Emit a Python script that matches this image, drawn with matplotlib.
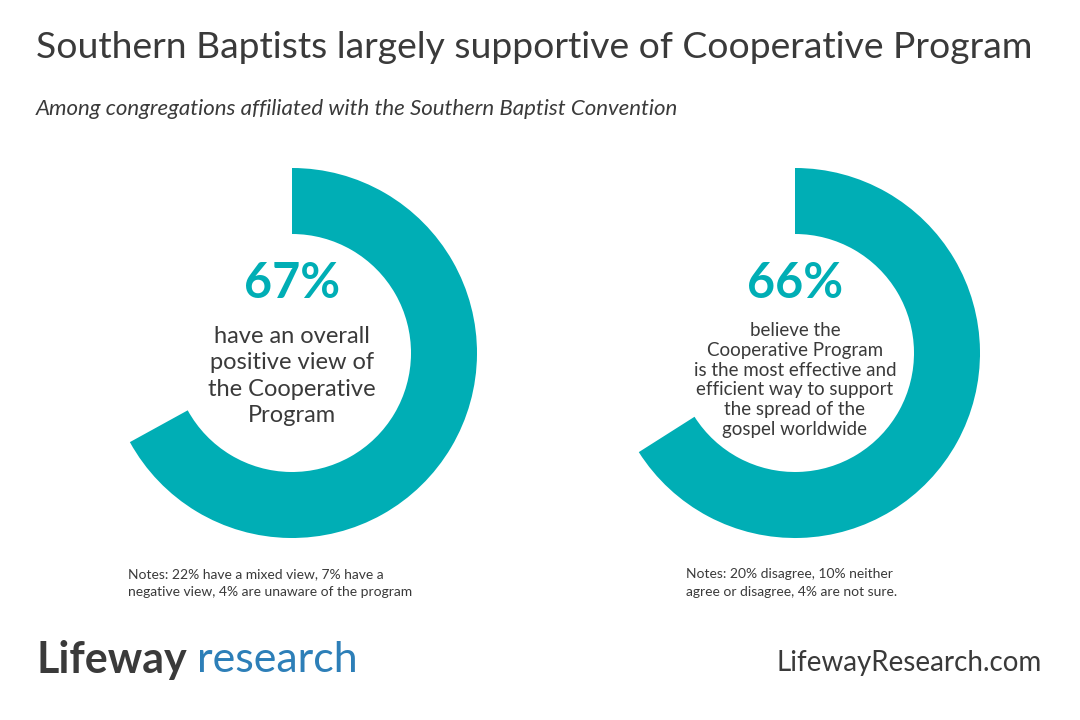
import matplotlib
matplotlib.use("Agg")
import matplotlib.pyplot as plt
from matplotlib.patches import Wedge

plt.rcParams['font.family'] = ['Lato', 'DejaVu Sans']

title = "Southern Baptists largely supportive of Cooperative Program"
subtitle = "Among congregations affiliated with the Southern Baptist Convention"
values = [67, 66]
labels = ["have an overall\npositive view of\nthe Cooperative\nProgram",
          "believe the\nCooperative Program\nis the most effective and\nefficient way to support\nthe spread of the\ngospel worldwide"]
notes = ["Notes: 22% have a mixed view, 7% have a\nnegative view, 4% are unaware of the program",
         "Notes: 20% disagree, 10% neither\nagree or disagree, 4% are not sure."]

TEAL = "#00AEB5"
DARK = "#3a3a3a"

fig = plt.figure(figsize=(10.8, 7.2), dpi=100)
ax = fig.add_axes([0, 0, 1, 1])
ax.set_xlim(0, 1080); ax.set_ylim(720, 0); ax.axis('off')

centers = [(292, 353), (795, 353)]
R, W = 185, 66
label_sizes = [17, 13.5]
label_y = [376, 380]
line_sp = [1.3, 1.2]
note_x = [128, 686]
for (cx, cy), v, lab, ls, ly, lsp, nx, note in zip(centers, values, labels, label_sizes, label_y, line_sp, note_x, notes):
    w = Wedge((cx, cy), R, -90, -90 + 360 * v / 100, width=W, color=TEAL, lw=0)
    ax.add_patch(w)
    ax.text(cx, 283, f"{v}%", ha='center', va='center', color=TEAL, fontsize=35, fontweight='bold')
    ax.text(cx, ly, lab, ha='center', va='center', color=DARK, fontsize=ls, linespacing=lsp)
    ax.text(nx, 583, note, ha='left', va='center', color=DARK, fontsize=10, linespacing=1.5)

ax.text(36, 48, title, ha='left', va='center', color=DARK, fontsize=26.8)
ax.text(36, 109, subtitle, ha='left', va='center', color=DARK, fontsize=16, style='italic')
ax.text(36, 660, "Lifeway", ha='left', va='center', color=DARK, fontsize=31, fontweight='bold')
ax.text(197, 660, "research", ha='left', va='center', color="#2d7fb8", fontsize=31)
ax.text(1042, 663, "LifewayResearch.com", ha='right', va='center', color=DARK, fontsize=20)

fig.savefig("out.png", dpi=100, facecolor='white')
